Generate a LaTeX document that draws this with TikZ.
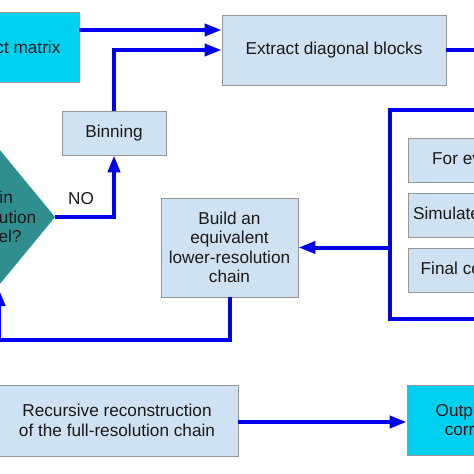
\documentclass[tikz,border=0pt]{standalone}
\usepackage{fontspec}
\setmainfont{Liberation Sans}
\usetikzlibrary{arrows.meta}
\definecolor{boxfill}{RGB}{207,226,243}
\definecolor{boxline}{RGB}{150,150,150}
\definecolor{cyanfill}{RGB}{0,208,240}
\definecolor{tealfill}{RGB}{47,143,143}
\definecolor{flowblue}{RGB}{0,0,238}
\definecolor{txt}{RGB}{25,25,25}
\tikzset{
  lbox/.style={draw=boxline, fill=boxfill, line width=0.9pt, inner sep=0pt, align=center, text=txt},
  cbox/.style={draw=boxline, fill=cyanfill, line width=0.9pt, inner sep=0pt, align=center, text=txt},
  flow/.style={draw=flowblue, line width=4pt},
  arr/.style={flow, -{Triangle[length=17pt,width=12pt]}},
  lbl/.style={text=txt, inner sep=0pt}
}
\begin{document}
\begin{tikzpicture}[x=1pt,y=-1pt,font=\fontsize{17.2}{19.5}\selectfont]
\useasboundingbox (0,0) rectangle (474,474);
\clip (0,0) rectangle (474,474);
\fill[white] (0,0) rectangle (474,474);
% nodes
\node[cbox, minimum width=148pt, minimum height=70pt] (cm) at (5,47) {Contact matrix};
\node[lbox, minimum width=224pt, minimum height=70pt] (ext) at (334,50) {Extract diagonal blocks};
\node[lbox, minimum width=104pt, minimum height=44pt] (bin) at (114,133) {Binning};
\fill[tealfill] (-57,217) -- (-1,149) -- (55,217) -- (-1,285) -- cycle;
\node[lbl, align=center] (dia) at (-1,217) {Min\\resolution\\level?};
\coordinate (diaR) at (55,217);
\coordinate (diaB) at (-1,289);
\node[lbl] (no) at (81,199) {NO};
\node[lbox, minimum width=137pt, minimum height=99pt] (build) at (229.5,247.5) {Build an\\equivalent\\lower-resolution\\chain};
\node[draw=flowblue, line width=4pt, fill=white, minimum width=210pt, minimum height=209pt, inner sep=0pt] (big) at (495,214.5) {};
\node[lbox, minimum width=166pt, minimum height=44pt] (s1) at (491,160) {For every block};
\node[lbox, minimum width=166pt, minimum height=44pt] (s2) at (491,215) {Simulated annealing};
\node[lbox, minimum width=166pt, minimum height=44pt] (s3) at (491,270) {Final configuration};
\node[lbox, minimum width=242pt, minimum height=71pt] (rec) at (117,420.5) {Recursive reconstruction\\of the full-resolution chain};
\node[cbox, minimum width=174pt, minimum height=70pt] (out) at (494,420) {Output the final\\correct chain};
\coordinate (extout) at (600,50);
\coordinate (loopc) at (-1,340);
% connectors
\draw[arr] ([yshift=17pt]cm.east) -- ([yshift=20pt]ext.west);
\draw[arr] (bin.north) |- (ext.west);
\draw[flow] (ext.east) -- (extout);
\draw[arr] (diaR) -| (bin.south);
\draw[arr] (big.west |- build.east) -- (build.east);
\draw[arr] (build.south) |- (loopc) -- (diaB);
\draw[arr] (rec.east |- 0,422) -- (out.west |- 0,422);
\end{tikzpicture}
\end{document}
